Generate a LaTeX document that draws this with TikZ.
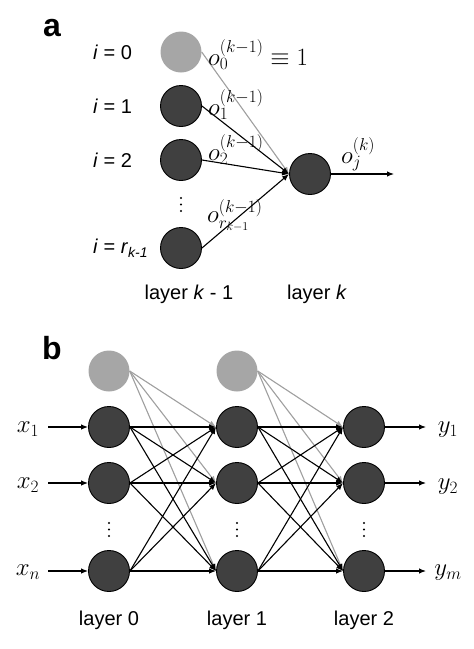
\documentclass[tikz,border=0pt]{standalone}
\usepackage{fontspec}
\setsansfont{Liberation Sans}
\usetikzlibrary{arrows.meta}
\definecolor{ndark}{HTML}{404040}
\definecolor{nlight}{HTML}{A6A6A6}
\definecolor{egray}{HTML}{A0A0A0}
\tikzset{
 neuron/.style={circle, draw=black, fill=ndark, line width=0.9pt, minimum size=41pt, inner sep=0pt},
 biasnode/.style={circle, fill=nlight, minimum size=41pt, inner sep=0pt},
 edge/.style={line width=1.1pt, -{Latex[length=7pt,width=5.5pt]}},
 gedge/.style={edge, draw=egray, fill=egray},
 txt/.style={font=\sffamily\fontsize{20}{24}\selectfont, inner sep=0pt},
 mth/.style={font=\fontsize{23}{27}\selectfont, inner sep=0pt},
 panel/.style={font=\sffamily\bfseries\fontsize{32}{36}\selectfont, inner sep=0pt},
 dotmark/.style={circle, fill=black, inner sep=0pt, minimum size=2.4pt}
}
\begin{document}
\begin{tikzpicture}[x=1pt,y=-1pt]
\useasboundingbox (0,0) rectangle (474,649);
% ---------- panel a ----------
\node[panel] (pa) at (52,28) {a};
\node[biasnode] (a0) at (181,52) {};
\node[neuron] (a1) at (181,106) {};
\node[neuron] (a2) at (181,160) {};
\node[dotmark] (ad1) at (181,198) {};
\node[dotmark] (ad2) at (181,204.5) {};
\node[dotmark] (ad3) at (181,211) {};
\node[neuron] (ar) at (181,248) {};
\node[neuron] (at) at (310,174) {};
\coordinate (aout) at (394,174);
\node[txt, anchor=west] (i0) at (93,52) {\textit{i} = 0};
\node[txt, anchor=west] (i1) at (93,106) {\textit{i} = 1};
\node[txt, anchor=west] (i2) at (93,160) {\textit{i} = 2};
\node[txt, anchor=west] (ir) at (93,248) {\textit{i} = \textit{r}\raisebox{-0.35ex}{\fontsize{14}{16}\selectfont\textit{k-1}}};
\draw[gedge] (a0.east) -- (at.west);
\draw[edge] (a1.east) -- (at.west);
\draw[edge] (a2.east) -- (at.west);
\draw[edge] (ar.east) -- (at.west);
\draw[edge] (at.east) -- (aout);
\node[mth, anchor=base west] (l0) at (208,65) {$o_0^{(k-1)}\equiv 1$};
\node[mth, anchor=base west] (l1) at (208,115) {$o_1^{(k-1)}$};
\node[mth, anchor=base west] (l2) at (208,160) {$o_2^{(k-1)}$};
\node[mth, anchor=base west] (lr) at (207,222) {$o_{r_{k-1}}^{(k-1)}$};
\node[mth, anchor=base west] (lj) at (341,163) {$o_j^{(k)}$};
\node[txt] (lay1) at (189,294) {layer \textit{k} - 1};
\node[txt] (lay2) at (317,294) {layer \textit{k}};
% ---------- panel b ----------
\node[panel] (pb) at (52,348) {b};
\node[biasnode] (b0) at (109,371) {};
\node[biasnode] (b1) at (237,371) {};
\foreach \l/\x in {0/109,1/237,2/364}{
  \node[neuron] (n\l a) at (\x,427) {};
  \node[neuron] (n\l b) at (\x,483) {};
  \node[dotmark] (d\l 1) at (\x,523) {};
  \node[dotmark] (d\l 2) at (\x,529.5) {};
  \node[dotmark] (d\l 3) at (\x,536) {};
  \node[neuron] (n\l c) at (\x,571) {};
}
% gray bias edges
\foreach \t in {a,b,c}{
  \draw[gedge] (b0.east) -- (n1\t.west);
  \draw[gedge] (b1.east) -- (n2\t.west);
}
% black edges
\foreach \s in {a,b,c}{
  \foreach \t in {a,b,c}{
    \draw[edge] (n0\s.east) -- (n1\t.west);
    \draw[edge] (n1\s.east) -- (n2\t.west);
  }
}
% inputs and outputs
\node[mth] (x1) at (28,429) {$x_1$};
\node[mth] (x2) at (28,485) {$x_2$};
\node[mth] (xn) at (28,572) {$x_n$};
\coordinate (x1e) at (48,427);
\coordinate (x2e) at (48,483);
\coordinate (xne) at (48,571);
\draw[edge] (x1e) -- (n0a.west);
\draw[edge] (x2e) -- (n0b.west);
\draw[edge] (xne) -- (n0c.west);
\coordinate (y1s) at (426,427);
\coordinate (y2s) at (426,483);
\coordinate (yms) at (426,571);
\draw[edge] (n2a.east) -- (y1s);
\draw[edge] (n2b.east) -- (y2s);
\draw[edge] (n2c.east) -- (yms);
\node[mth] (y1) at (448,430) {$y_1$};
\node[mth] (y2) at (448,487) {$y_2$};
\node[mth] (ym) at (448,573) {$y_m$};
\node[txt] (L0) at (109,620) {layer 0};
\node[txt] (L1) at (237,620) {layer 1};
\node[txt] (L2) at (364,620) {layer 2};
\end{tikzpicture}
\end{document}
